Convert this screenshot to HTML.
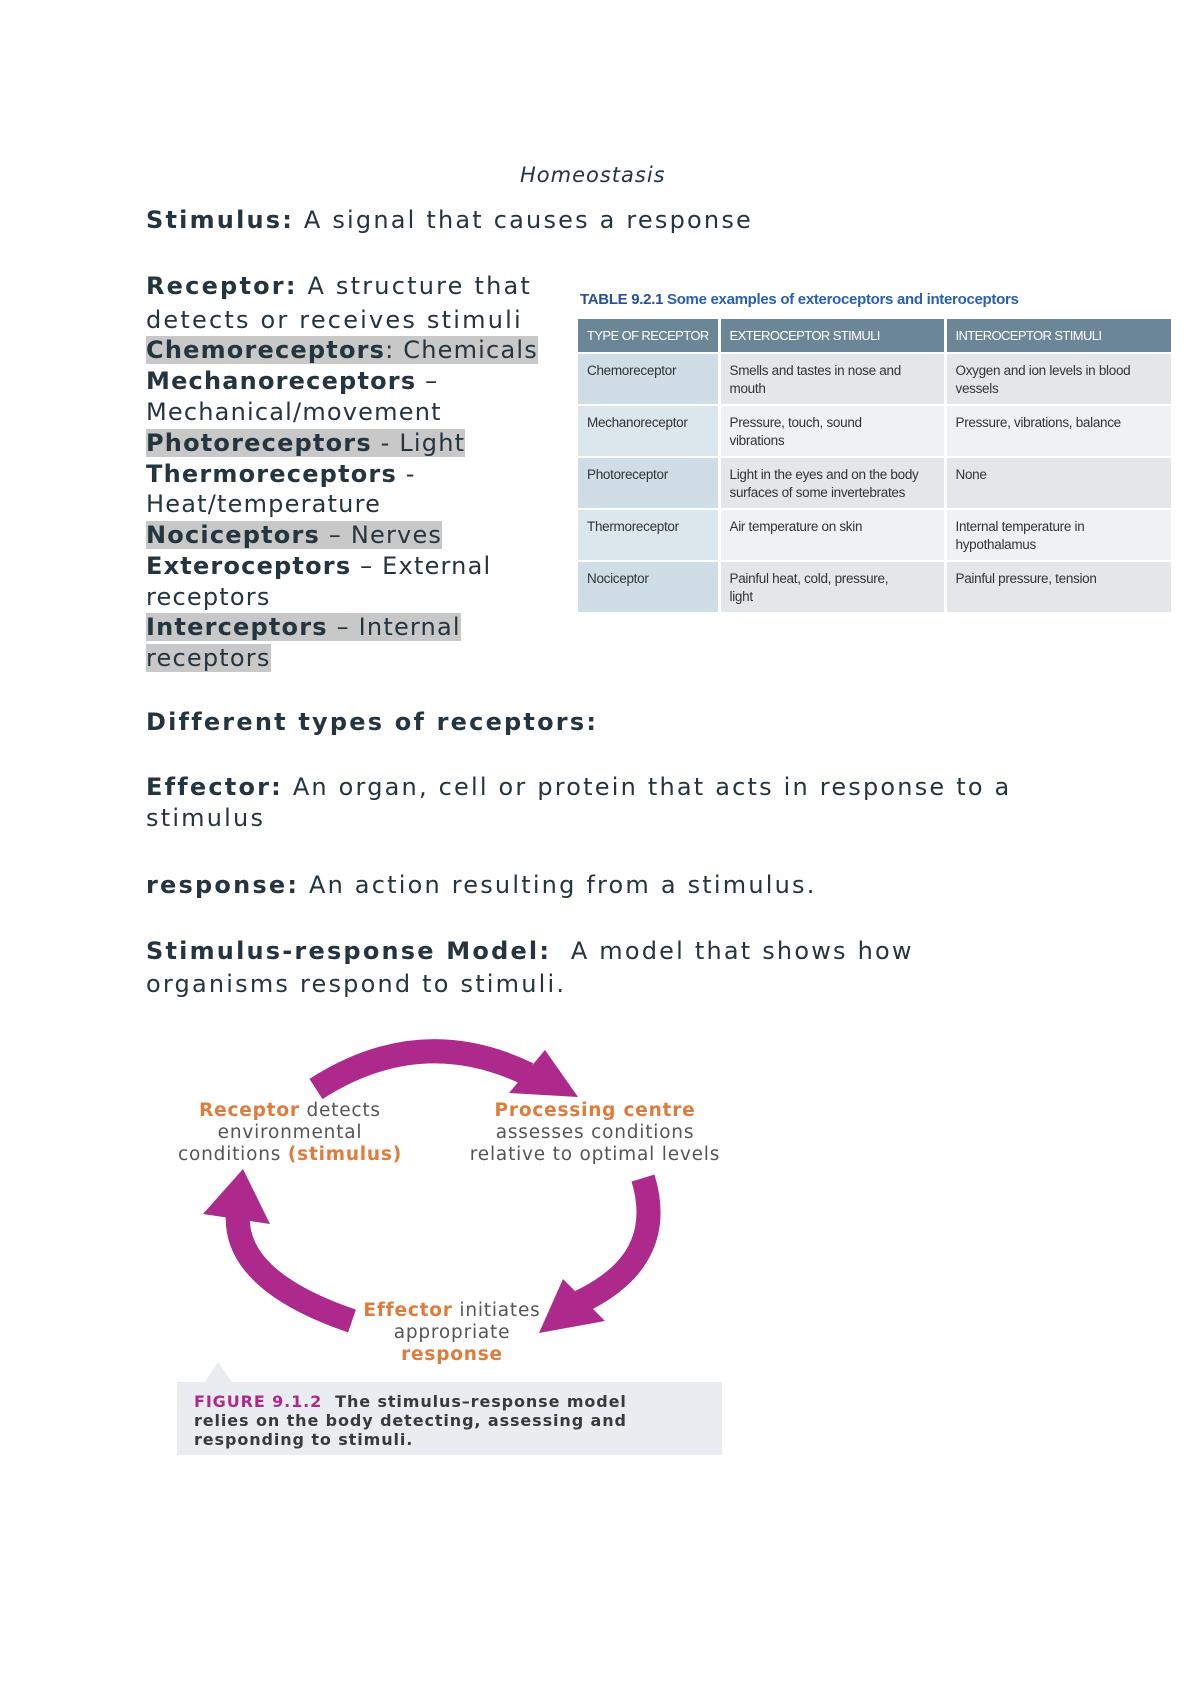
<!DOCTYPE html>
<html><head><meta charset="utf-8"><style>
body{margin:0;width:1200px;height:1696px;background:#fff;position:relative;overflow:hidden;font-family:"DejaVu Sans","Liberation Sans",sans-serif;color:#253540}
.l{position:absolute;left:146px;font-size:24px;line-height:31px;white-space:nowrap;letter-spacing:2.2px}
.s{letter-spacing:1.2px}
.hl{background:#c8c8c8}
b{font-weight:bold}
table{position:absolute;left:578px;top:319px;width:594px;border-collapse:collapse;font-family:"Liberation Sans",sans-serif;font-size:13.5px;color:#333;table-layout:fixed;letter-spacing:-0.3px}
td,th{vertical-align:top;padding:8px 9px 0 9px;line-height:18px;border-right:3px solid #fff;border-bottom:2px solid #fff;text-align:left;white-space:normal}
th{background:#6b8797;color:#fff;font-weight:normal;height:33px;padding:0 9px;line-height:33px;font-size:13px;white-space:nowrap;letter-spacing:-0.6px;box-sizing:border-box}
tr.a td{background:#e4e7ea}tr.b td{background:#eff1f3}
tr.a td.c1{background:#cfdde6}tr.b td.c1{background:#dbe6ed}
.dt{position:absolute;font-size:18.5px;text-align:center;color:#555;font-family:"DejaVu Sans",sans-serif;line-height:22px;white-space:nowrap;letter-spacing:0.8px}
.o{color:#e07b3b;font-weight:bold}
</style></head><body>
<div class="l" style="left:520px;top:160px;font-style:italic;font-size:21px;letter-spacing:1px">Homeostasis</div>
<div class="l" style="top:205px"><b>Stimulus:</b> A signal that causes a response</div>
<div class="l" style="top:271px"><b>Receptor:</b> A structure that</div>
<div class="l" style="top:305px">detects or receives stimuli</div>
<div class="l s" style="top:335px"><span class="hl"><b>Chemoreceptors</b>: Chemicals</span></div>
<div class="l s" style="top:366px"><b>Mechanoreceptors</b> –</div>
<div class="l s" style="top:397px">Mechanical/movement</div>
<div class="l s" style="top:428px"><span class="hl"><b>Photoreceptors</b> - Light</span></div>
<div class="l s" style="top:459px"><b>Thermoreceptors</b> -</div>
<div class="l s" style="top:489px">Heat/temperature</div>
<div class="l s" style="top:520px"><span class="hl"><b>Nociceptors</b> – Nerves</span></div>
<div class="l s" style="top:551px"><b>Exteroceptors</b> – External</div>
<div class="l s" style="top:582px">receptors</div>
<div class="l s" style="top:612px"><span class="hl"><b>Interceptors</b> – Internal</span></div>
<div class="l s" style="top:643px"><span class="hl">receptors</span></div>
<div class="l" style="top:707px"><b>Different types of receptors:</b></div>
<div class="l" style="top:772px"><b>Effector:</b> An organ, cell or protein that acts in response to a</div>
<div class="l" style="top:803px">stimulus</div>
<div class="l" style="top:870px"><b>response:</b> An action resulting from a stimulus.</div>
<div class="l" style="top:936px"><b>Stimulus-response Model:</b>&nbsp; A model that shows how</div>
<div class="l" style="top:969px">organisms respond to stimuli.</div>

<div style="position:absolute;left:580px;top:291px;font-family:'Liberation Sans',sans-serif;font-size:15px;font-weight:bold;color:#2a4f9a;letter-spacing:-0.3px">TABLE 9.2.1 <span style="color:#2a5fb0">Some examples of exteroceptors and interoceptors</span></div>
<table>
<colgroup><col style="width:141px"><col style="width:226px"><col style="width:227px"></colgroup>
<tr><th>TYPE OF RECEPTOR</th><th>EXTEROCEPTOR STIMULI</th><th>INTEROCEPTOR STIMULI</th></tr>
<tr class="a" style="height:52px"><td class="c1">Chemoreceptor</td><td>Smells and tastes in nose and mouth</td><td>Oxygen and ion levels in blood vessels</td></tr>
<tr class="b" style="height:52px"><td class="c1">Mechanoreceptor</td><td>Pressure, touch, sound<br>vibrations</td><td>Pressure, vibrations, balance</td></tr>
<tr class="a" style="height:52px"><td class="c1">Photoreceptor</td><td>Light in the eyes and on the body surfaces of some invertebrates</td><td>None</td></tr>
<tr class="b" style="height:52px"><td class="c1">Thermoreceptor</td><td>Air temperature on skin</td><td>Internal temperature in hypothalamus</td></tr>
<tr class="a" style="height:52px"><td class="c1">Nociceptor</td><td>Painful heat, cold, pressure,<br>light</td><td>Painful pressure, tension</td></tr>
</table>

<svg style="position:absolute;left:0;top:0" width="1200" height="1696">
<g fill="none" stroke="#ad2a8c" stroke-width="24">
<path d="M316 1089 Q420 1022 528 1074"/>
<path d="M643 1178 Q668 1260 580 1302"/>
<path d="M352 1321 Q232 1280 238 1212"/>
</g>
<g fill="#ad2a8c">
<polygon points="545,1050 509,1093 578,1097"/>
<polygon points="563,1279 605,1321 539,1333"/>
<polygon points="243,1169 203,1214 270,1224"/>
</g>
<polygon points="218,1362 205,1382 232,1382" fill="#e9edf2"/>
<rect x="177" y="1382" width="545" height="73" fill="#e9edf2"/>
</svg>
<div class="dt" style="left:290px;top:1100px;transform:translateX(-50%)"><span class="o">Receptor</span> detects<br>environmental<br>conditions <span class="o">(stimulus)</span></div>
<div class="dt" style="left:595px;top:1100px;transform:translateX(-50%)"><span class="o">Processing centre</span><br>assesses conditions<br>relative to optimal levels</div>
<div class="dt" style="left:452px;top:1300px;transform:translateX(-50%)"><span class="o">Effector</span> initiates<br>appropriate<br><span class="o">response</span></div>
<div style="position:absolute;left:194px;top:1392px;font-size:16px;line-height:19px;font-weight:bold;color:#3a3a3a;font-family:'DejaVu Sans',sans-serif;letter-spacing:0.9px"><span style="color:#ad2a8c">FIGURE 9.1.2</span>&nbsp; The stimulus–response model<br>relies on the body detecting, assessing and<br>responding to stimuli.</div>
</body></html>
